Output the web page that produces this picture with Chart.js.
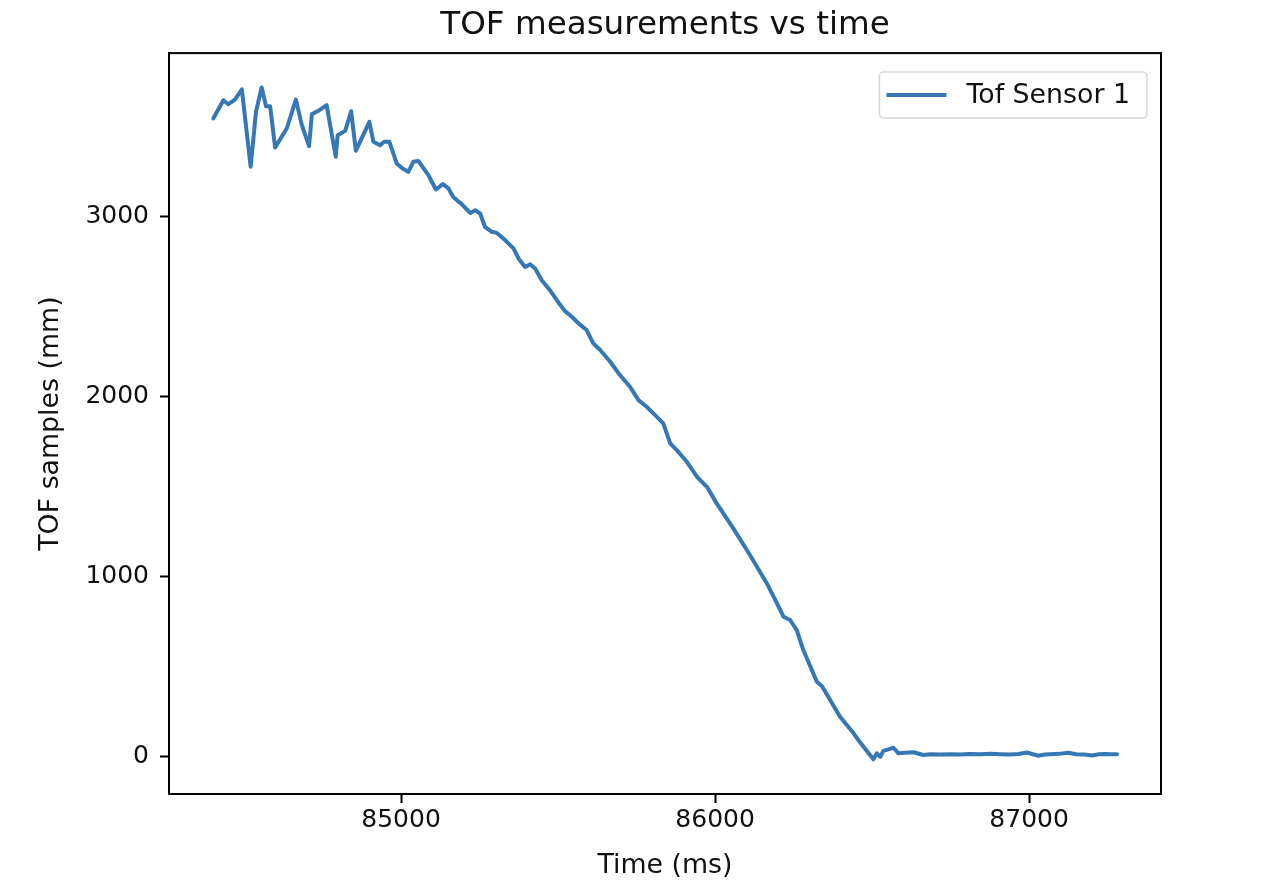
<!DOCTYPE html>
<html>
<head>
<meta charset="utf-8">
<title>TOF measurements vs time</title>
<script src="https://cdn.jsdelivr.net/npm/chart.js@4.4.0/dist/chart.umd.min.js"></script>
<style>
    body { margin: 0; background: #ffffff; }
    #wrap { width: 1288px; height: 882px; }
</style>
</head>
<body>
<div id="wrap"><canvas id="tofChart" width="1288" height="882"></canvas></div>
<script>
// Time stamps (ms) and TOF readings (mm)
const timeMs = [
    84402, 84434, 84450, 84471, 84493, 84521, 84538, 84556, 84570, 84583,
    84599, 84636, 84665, 84684, 84707, 84716, 84740, 84763, 84792, 84798,
    84822, 84841, 84856, 84899, 84912, 84933, 84946, 84963, 84986, 85005,
    85023, 85039, 85055, 85087, 85111, 85133, 85151, 85166, 85193, 85220,
    85236, 85252, 85267, 85289, 85305, 85331, 85358, 85374, 85395, 85411,
    85427, 85448, 85474, 85496, 85522, 85544, 85565, 85591, 85612, 85634,
    85666, 85697, 85729, 85756, 85782, 85809, 85835, 85857, 85878, 85910,
    85942, 85974, 86005, 86058, 86111, 86165, 86197, 86218, 86239, 86260,
    86281, 86324, 86340, 86398, 86441, 86456, 86504, 86515, 86526, 86536,
    86552, 86568, 86584, 86605, 86632, 86663, 86685, 86716, 86748, 86780,
    86812, 86844, 86876, 86908, 86939, 86966, 86993, 87012, 87028, 87050,
    87067, 87096, 87124, 87150, 87175, 87201, 87222, 87242, 87260, 87280
];
const tofSensor1 = [
    3543, 3644, 3622, 3648, 3704, 3274, 3580, 3715, 3611, 3611,
    3382, 3487, 3648, 3506, 3389, 3567, 3589, 3617, 3330, 3450,
    3474, 3583, 3363, 3524, 3413, 3394, 3413, 3413, 3293, 3265,
    3246, 3302, 3307, 3228, 3148, 3178, 3154, 3107, 3067, 3018,
    3033, 3015, 2941, 2913, 2907, 2867, 2821, 2765, 2718, 2733,
    2709, 2644, 2589, 2533, 2472, 2441, 2404, 2367, 2293, 2256,
    2191, 2117, 2052, 1978, 1941, 1894, 1848, 1737, 1700, 1635,
    1552, 1496, 1404, 1265, 1117, 959, 848, 774, 756, 700,
    589, 413, 389, 218, 126, 89, -18, 15, -4, 29,
    37, 46, 15, 18, 21, 6, 10, 8, 10, 9,
    11, 10, 12, 10, 9, 11, 20, 10, 2, 9,
    10, 12, 18, 10, 8, 3, 10, 11, 10, 10
];
const seriesLabel = 'Tof Sensor 1';
const xTicks = [85000, 86000, 87000];
const yTicks = [0, 1000, 2000, 3000];

const FONT = 'DejaVu Sans';
const TEXT = '#111111';
const AXIS = '#000000';
const LINE = '#3677b5';
const TICK_SIZE = 25;
const LABEL_SIZE = 26.8;
const TITLE_SIZE = 32.6;

// Close the axes box on top and right, like a matplotlib frame
const frameBox = {
    id: 'frameBox',
    afterDatasetsDraw(chart) {
        const { ctx, chartArea: a } = chart;
        ctx.save();
        ctx.strokeStyle = AXIS;
        ctx.lineWidth = 2;
        ctx.strokeRect(a.left, a.top, a.right - a.left, a.bottom - a.top);
        ctx.restore();
    }
};

// Legend inside the plot, top right, with a rounded frame
const boxedLegend = {
    id: 'boxedLegend',
    afterDraw(chart) {
        const { ctx, chartArea: a } = chart;
        const label = chart.data.datasets[0].label;
        ctx.save();
        ctx.font = LABEL_SIZE + 'px "' + FONT + '"';
        const textW = ctx.measureText(label).width;
        const w = 7 + 60 + 20 + textW + 17;
        const h = 46;
        const x = a.right - 14 - w;
        const y = a.top + 19;
        ctx.beginPath();
        ctx.roundRect(x, y, w, h, 4);
        ctx.fillStyle = 'rgba(255,255,255,0.8)';
        ctx.fill();
        ctx.strokeStyle = '#d6d6d6';
        ctx.lineWidth = 1.5;
        ctx.stroke();
        ctx.beginPath();
        ctx.moveTo(x + 7, y + h / 2);
        ctx.lineTo(x + 67, y + h / 2);
        ctx.strokeStyle = LINE;
        ctx.lineWidth = 4;
        ctx.stroke();
        ctx.fillStyle = TEXT;
        ctx.textBaseline = 'middle';
        ctx.fillText(label, x + 87, y + h / 2 + 1);
        ctx.restore();
    }
};

const ctx = document.getElementById('tofChart').getContext('2d');
new Chart(ctx, {
    type: 'line',
    data: {
        datasets: [{
            label: seriesLabel,
            data: timeMs.map((t, i) => ({ x: t, y: tofSensor1[i] })),
            borderColor: LINE,
            borderWidth: 4,
            borderJoinStyle: 'round',
            borderCapStyle: 'round',
            pointRadius: 0,
            tension: 0,
            fill: false
        }]
    },
    options: {
        responsive: false,
        animation: false,
        layout: { padding: { left: 0, right: 127, top: 0, bottom: 0 } },
        plugins: {
            legend: { display: false },
            tooltip: { enabled: false },
            title: {
                display: true,
                text: 'TOF measurements vs time',
                fullSize: false,
                color: TEXT,
                font: { family: FONT, size: TITLE_SIZE, weight: 'normal', lineHeight: 1.2 },
                padding: { top: 6, bottom: 8 }
            }
        },
        scales: {
            x: {
                type: 'linear',
                min: 84261,
                max: 87420,
                afterBuildTicks: (scale) => { scale.ticks = xTicks.map(v => ({ value: v })); },
                afterFit: (scale) => { scale.height = 88; },
                grid: {
                    display: true,
                    drawOnChartArea: false,
                    drawTicks: true,
                    tickLength: 9,
                    tickWidth: 2,
                    tickColor: AXIS
                },
                border: { display: true, color: AXIS, width: 2 },
                ticks: {
                    color: TEXT,
                    padding: 2,
                    maxRotation: 0,
                    font: { family: FONT, size: TICK_SIZE },
                    callback: (v) => String(v)
                },
                title: {
                    display: true,
                    text: 'Time (ms)',
                    color: TEXT,
                    font: { family: FONT, size: LABEL_SIZE, lineHeight: 1.2 },
                    padding: { top: 0, bottom: 0 }
                }
            },
            y: {
                type: 'linear',
                min: -211,
                max: 3906,
                afterBuildTicks: (scale) => { scale.ticks = yTicks.map(v => ({ value: v })); },
                afterFit: (scale) => { scale.width = 169; },
                grid: {
                    display: true,
                    drawOnChartArea: false,
                    drawTicks: true,
                    tickLength: 9,
                    tickWidth: 2,
                    tickColor: AXIS
                },
                border: { display: true, color: AXIS, width: 2 },
                ticks: {
                    color: TEXT,
                    padding: 11,
                    font: { family: FONT, size: TICK_SIZE },
                    callback: (v) => String(v)
                },
                title: {
                    display: true,
                    text: 'TOF samples (mm)',
                    color: TEXT,
                    font: { family: FONT, size: LABEL_SIZE, lineHeight: 1.2 },
                    padding: { top: 35, bottom: 0 }
                }
            }
        }
    },
    plugins: [frameBox, boxedLegend]
});
</script>
</body>
</html>
